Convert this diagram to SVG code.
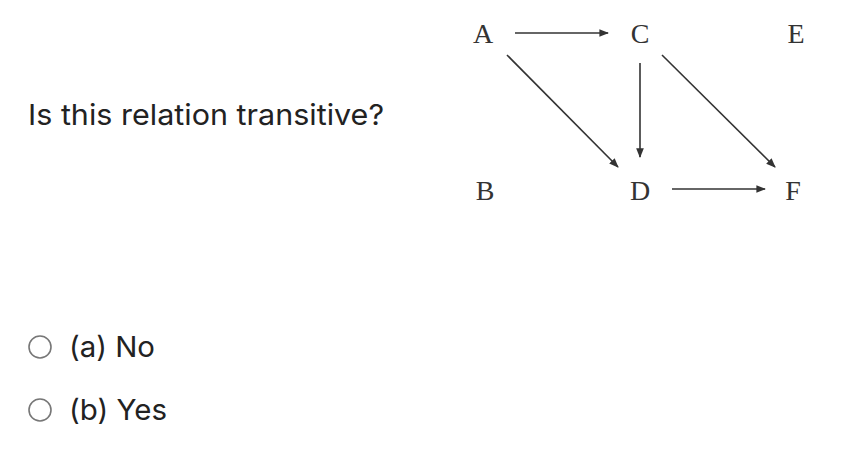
<svg xmlns="http://www.w3.org/2000/svg" width="860" height="472" viewBox="0 0 860 472">
<defs>
<style>
.q{font-family:Inter,"Liberation Sans",Arial,sans-serif;font-size:29px;fill:#222}
.n{font-family:"Liberation Serif","Times New Roman",serif;font-size:28px;fill:#333;text-anchor:middle}
.e{stroke:#333;stroke-width:1.6;fill:none;marker-end:url(#ah)}
.r{fill:#fff;stroke:#777;stroke-width:1.6}
</style>
<marker id="ah" viewBox="0 0 10 10" refX="9" refY="5" markerWidth="6" markerHeight="6" orient="auto" markerUnits="strokeWidth">
<path d="M0,1 L10,5 L0,9 Z" fill="#333"/>
</marker>
</defs>
<rect width="860" height="472" fill="#fff"/>
<text class="q" x="28" y="125" textLength="356" lengthAdjust="spacingAndGlyphs">Is this relation transitive?</text>
<g id="optA"><circle class="r" cx="40" cy="347" r="11"/><text class="q" x="69" y="357" textLength="86" lengthAdjust="spacingAndGlyphs">(a) No</text></g>
<g id="optB"><circle class="r" cx="40" cy="410" r="11"/><text class="q" x="69" y="420" textLength="98" lengthAdjust="spacingAndGlyphs">(b) Yes</text></g>
<g id="connectors">
<line class="e" x1="515" y1="33" x2="608" y2="33"/>
<line class="e" x1="507" y1="55" x2="618" y2="167"/>
<line class="e" x1="640" y1="63" x2="640" y2="157"/>
<line class="e" x1="662" y1="55" x2="775" y2="167"/>
<line class="e" x1="672" y1="189" x2="765" y2="189"/>
</g>
<g id="A"><text class="n" x="483" y="43">A</text></g>
<g id="B"><text class="n" x="485" y="200">B</text></g>
<g id="C"><text class="n" x="640" y="43">C</text></g>
<g id="D"><text class="n" x="640" y="200">D</text></g>
<g id="E"><text class="n" x="796" y="43">E</text></g>
<g id="F"><text class="n" x="793" y="200">F</text></g>
</svg>
